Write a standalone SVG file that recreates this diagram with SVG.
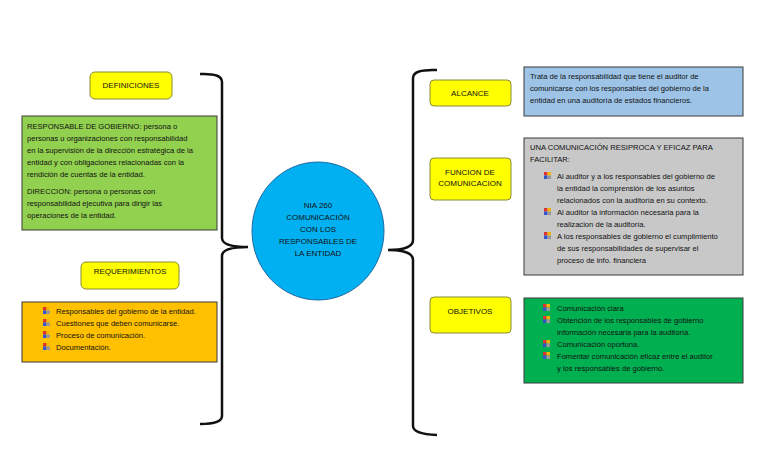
<svg xmlns="http://www.w3.org/2000/svg" width="768" height="466" viewBox="0 0 768 466" xmlns:xlink="http://www.w3.org/1999/xlink">
<style>
.lbl{fill:#ffff00;stroke:#8a8a3a;stroke-width:1}
.box{stroke:#3a3a3a;stroke-width:1}
text{font-family:"Liberation Sans",Arial,sans-serif;font-size:7.6px;fill:#111}
.t{font-size:8px;text-anchor:middle}
.brace{fill:none;stroke:#111;stroke-width:2.5}
</style>
<defs>
<g id="b"><rect x="0" y="0" width="3.5" height="3.5" fill="#d33"/><rect x="3.5" y="0" width="3.5" height="3.5" fill="#f4b400"/><rect x="0" y="3.5" width="3.5" height="3.5" fill="#3355cc"/><rect x="3.5" y="3.5" width="3.5" height="3.5" fill="#999"/></g>
</defs>
<rect width="768" height="466" fill="#fff"/>
<g id="connectors">
<path class="brace" d="M200,74 Q222,73 222,82 L222,238 Q222,247 248,247 Q222,247 222,256 L222,416 Q222,424 200,424"/>
<path class="brace" d="M437,70 Q413,69 413,78 L413,240 Q413,250 388,250 Q413,250 413,260 L413,426 Q413,434 437,435"/>
</g>
<g id="center"><ellipse cx="318" cy="231" rx="66" ry="69" fill="#00b0f0" stroke="#1f6aa5" stroke-width="1"/>
<text class="t" x="318" y="208">NIA 260</text><text class="t" x="318" y="220">COMUNICACIÓN</text><text class="t" x="318" y="232">CON LOS</text><text class="t" x="318" y="244">RESPONSABLES DE</text><text class="t" x="318" y="256">LA ENTIDAD</text></g>
<g id="definiciones"><rect class="lbl" x="90" y="72" width="82" height="27" rx="5"/><text class="t" x="131" y="88">DEFINICIONES</text></g>
<g id="def-box"><rect class="box" x="22" y="116" width="195" height="114" fill="#92d050"/>
<text x="27" y="129">RESPONSABLE DE GOBIERNO: persona o</text>
<text x="27" y="141">personas u organizaciones con responsabilidad</text>
<text x="27" y="153">en la supervisión de la dirección estratégica de la</text>
<text x="27" y="165">entidad y con obligaciones relacionadas con la</text>
<text x="27" y="177">rendición de cuentas de la entidad.</text>
<text x="27" y="194">DIRECCION: persona o personas con</text>
<text x="27" y="206">responsabilidad ejecutiva para dirigir las</text>
<text x="27" y="218">operaciones de la entidad.</text></g>
<g id="requerimientos"><rect class="lbl" x="81" y="262" width="98" height="27" rx="5"/><text class="t" x="130" y="274">REQUERIMIENTOS</text></g>
<g id="req-box"><rect class="box" x="22" y="302" width="195" height="60" fill="#ffc000"/>
<use xlink:href="#b" x="43" y="307"/><text x="56" y="314">Responsables del gobierno de la entidad.</text>
<use xlink:href="#b" x="43" y="319"/><text x="56" y="326">Cuestiones que deben comunicarse.</text>
<use xlink:href="#b" x="43" y="331"/><text x="56" y="338">Proceso de comunicación.</text>
<use xlink:href="#b" x="43" y="343"/><text x="56" y="350">Documentación.</text></g>
<g id="alcance"><rect class="lbl" x="430" y="80" width="81" height="26" rx="4"/><text class="t" x="470" y="96">ALCANCE</text></g>
<g id="alc-box"><rect class="box" x="524" y="67" width="219" height="49" fill="#9dc3e6"/>
<text x="530" y="79">Trata de la responsabilidad que tiene el auditor de</text>
<text x="530" y="91">comunicarse con los responsables del gobierno de la</text>
<text x="530" y="103">entidad en una auditoría de estados financieros.</text></g>
<g id="funcion"><rect class="lbl" x="430" y="158" width="81" height="42" rx="4"/><text class="t" x="470" y="175">FUNCION DE</text><text class="t" x="470" y="186">COMUNICACION</text></g>
<g id="fun-box"><rect class="box" x="524" y="138" width="219" height="137" fill="#c8c8c8"/>
<text x="530" y="150">UNA COMUNICACIÓN RESIPROCA Y EFICAZ PARA</text>
<text x="530" y="162">FACILITAR:</text>
<use xlink:href="#b" x="544" y="172"/><text x="557" y="179">Al auditor y a los responsables del gobierno de</text>
<text x="557" y="191">la entidad la comprensión de los asuntos</text>
<text x="557" y="203">relacionados con la auditoría en su contexto.</text>
<use xlink:href="#b" x="544" y="208"/><text x="557" y="215">Al auditor la información necesaria para la</text>
<text x="557" y="227">realizacion de la auditoría.</text>
<use xlink:href="#b" x="544" y="232"/><text x="557" y="239">A los responsables de gobierno el cumplimiento</text>
<text x="557" y="251">de sus responsabilidades de supervisar el</text>
<text x="557" y="263">proceso de info. financiera</text></g>
<g id="objetivos"><rect class="lbl" x="430" y="297" width="81" height="36" rx="4"/><text class="t" x="470" y="314">OBJETIVOS</text></g>
<g id="obj-box"><rect class="box" x="524" y="298" width="219" height="85" fill="#00b050"/>
<use xlink:href="#b" x="543" y="304"/><text x="557" y="311">Comunicación clara</text>
<use xlink:href="#b" x="543" y="316"/><text x="557" y="323">Obtención de los responsables de gobierno</text>
<text x="557" y="335">información necesaria para la auditoría.</text>
<use xlink:href="#b" x="543" y="340"/><text x="557" y="347">Comunicación oportuna.</text>
<use xlink:href="#b" x="543" y="352"/><text x="557" y="359">Fomentar comunicación eficaz entre el auditor</text>
<text x="557" y="371">y los responsables de gobierno.</text></g>
</svg>
